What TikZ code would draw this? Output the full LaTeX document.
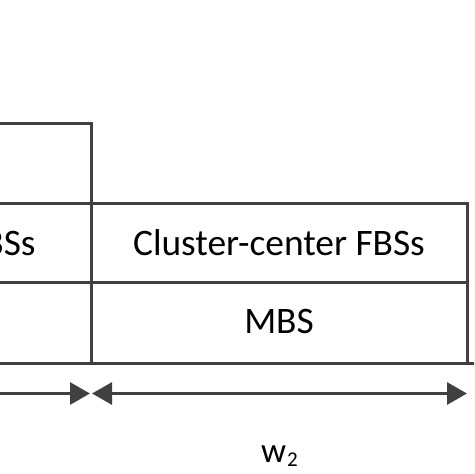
\documentclass[tikz,border=0pt]{standalone}
\usepackage{fontspec}
\setmainfont{Carlito}
\usetikzlibrary{arrows.meta, positioning, calc}
\definecolor{linegray}{HTML}{404040}

\begin{document}
\begin{tikzpicture}[x=0.5pt, y=-0.5pt,
    grid/.style={draw=linegray, line width=1.5pt},
    dim/.style={draw=linegray, line width=1.5pt},
    dimtip/.tip={Triangle[length=10pt, width=11pt]},
    lbl/.style={anchor=base, inner sep=0pt, font=\fontsize{18.7}{22}\selectfont}]
\useasboundingbox (0,0) rectangle (474,474);
\clip (0,0) rectangle (474,474);
% Tiers
\draw[grid] (-20,124) -- (91,124) -- (91,363);
\draw[grid] (-20,204) -- (467,204) -- (467,363);
\draw[grid] (-20,283) -- (467,283);
\draw[grid] (-20,363) -- (494,363);

% Labels
\node[lbl, anchor=base east] (member) at (36,256) {FBSs};
\node[lbl] (center) at (279,256) {Cluster-center FBSs};
\node[lbl] (mbs) at (279,333) {MBS};

% Widths
\coordinate (wonestart) at (-20,393.5);
\coordinate (woneend) at (90,393.5);
\coordinate (wtwostart) at (92,393.5);
\coordinate (wtwoend) at (467,393.5);
\draw[dim, -dimtip] (wonestart) -- (woneend);
\draw[dim, dimtip-dimtip] (wtwostart) -- (wtwoend);
\node[anchor=base, inner sep=0pt, font=\fontsize{17.5}{20}\selectfont] (wtwo) at (279.5,462)
  {w\kern0.5pt\raisebox{-2pt}{\fontsize{10.5}{12}\selectfont 2}};
\end{tikzpicture}
\end{document}
